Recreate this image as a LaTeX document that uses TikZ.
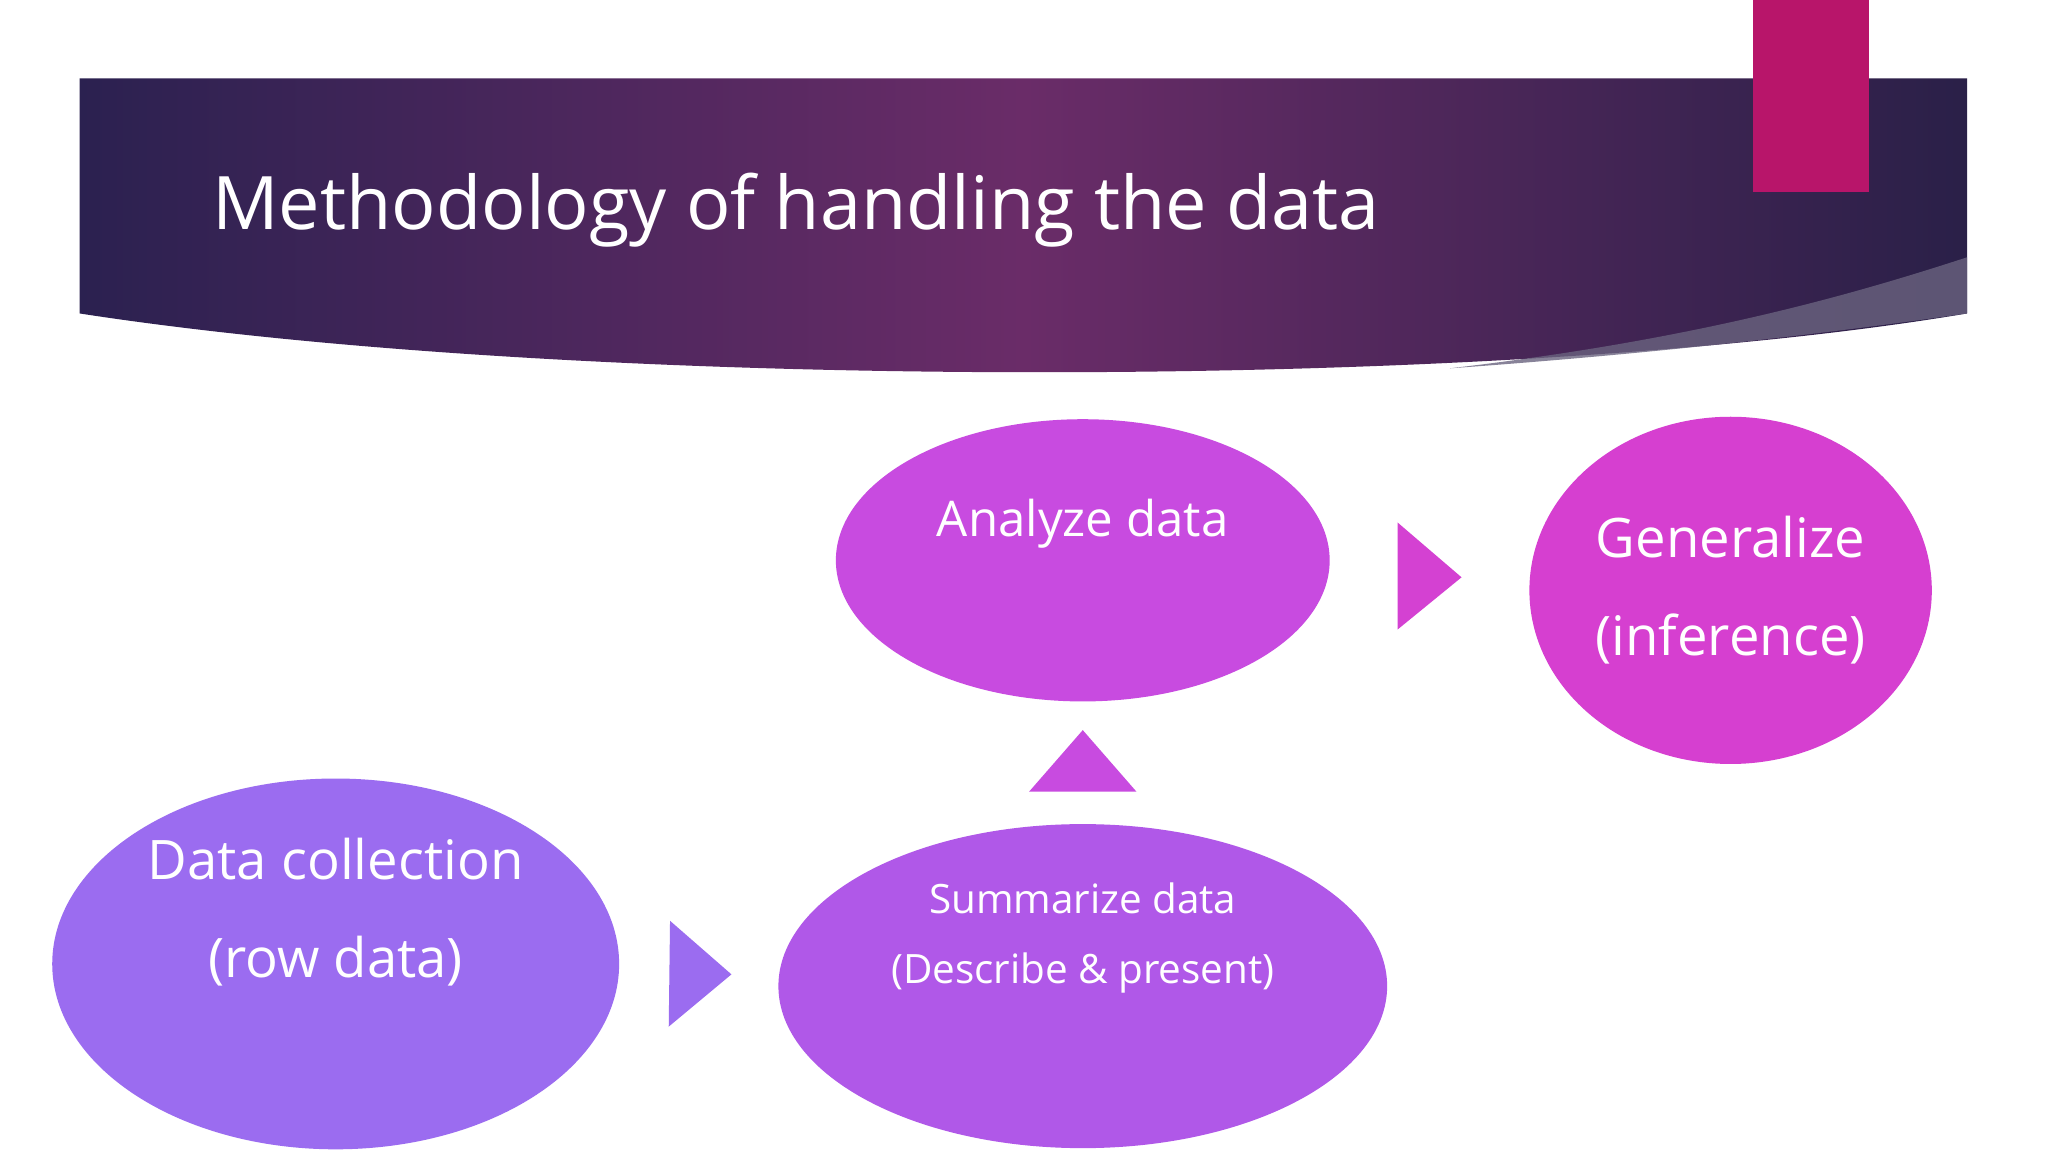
\documentclass[tikz,border=0pt]{standalone}
\usepackage{fontspec}
\setmainfont{Open Sans}
\usetikzlibrary{shapes.geometric}
\definecolor{cA}{HTML}{C84BE0}
\definecolor{cG}{HTML}{D63FD0}
\definecolor{cD}{HTML}{9B6CF0}
\definecolor{cS}{HTML}{B058E8}
\definecolor{bL}{HTML}{2B2150}
\definecolor{bM}{HTML}{6A2C68}
\definecolor{bR}{HTML}{2A2048}
\definecolor{mag}{HTML}{B8156A}
\tikzset{
  ell/.style={ellipse, draw=none, text=white, align=center, inner sep=0pt},
}
\begin{document}
\begin{tikzpicture}[x=0.01306cm,y=-0.01306cm]
\useasboundingbox (0,0) rectangle (1568,882);
\fill[white] (0,0) rectangle (1568,882);
% banner
\shade[left color=bL, right color=bR, middle color=bM]
  (61,60) -- (1506,60) -- (1506,240) .. controls (1150,300) and (450,300) .. (61,240) -- cycle;
\fill[color=white!30!bR, opacity=0.8] (1110,282) .. controls (1300,260) and (1420,225) .. (1506,197) -- (1506,240) .. controls (1380,258) and (1250,272) .. (1110,282) -- cycle;
\fill[mag] (1342,0) rectangle (1431,147);
\node[anchor=base west, inner sep=0pt, text=white, font=\fontsize{21}{26}\selectfont] (title) at (162,176) {Methodology of handling the data};
% ellipses
\node[ell, fill=cA, minimum width=140.5pt, minimum height=80.3pt, font=\fontsize{14}{18}\selectfont] (an) at (829,429) {Analyze data\\[6pt]};
\node[ell, fill=cG, minimum width=114.5pt, minimum height=98.8pt, font=\fontsize{15.5}{28}\selectfont] (ge) at (1325,452) {Generalize\\(inference)};
\node[ell, fill=cD, minimum width=161.3pt, minimum height=105.5pt, font=\fontsize{15.5}{28}\selectfont] (dc) at (257,738) {Data collection\\(row data)\\[4pt]};
\node[ell, fill=cS, minimum width=173.2pt, minimum height=92.2pt, font=\fontsize{11.5}{20}\selectfont] (su) at (829,755) {Summarize data\\(Describe \& present)\\[10pt]};
% triangles
\coordinate (t1a) at (1070,400); \coordinate (t1b) at (1119,442); \coordinate (t1c) at (1070,482);
\fill[cG!85!cA] (t1a) -- (t1b) -- (t1c) -- cycle;
\coordinate (t2a) at (788,606); \coordinate (t2b) at (829,559); \coordinate (t2c) at (870,606);
\fill[cA] (t2a) -- (t2b) -- (t2c) -- cycle;
\coordinate (t3a) at (513,705); \coordinate (t3b) at (560,746); \coordinate (t3c) at (512,786);
\fill[cD] (t3a) -- (t3b) -- (t3c) -- cycle;
\end{tikzpicture}
\end{document}
